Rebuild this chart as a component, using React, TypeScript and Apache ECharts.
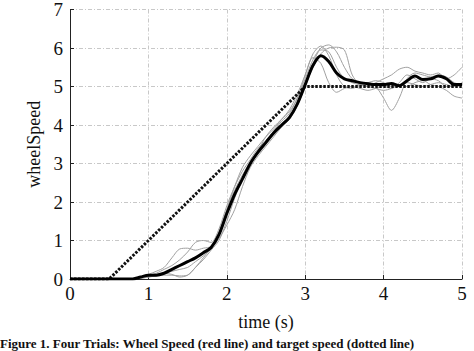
import React, { useEffect, useRef } from "react";
import * as echarts from "echarts";

const time = [0,0.1,0.2,0.3,0.4,0.5,0.6,0.7,0.8,0.9,1.0,1.1,1.2,1.3,1.4,1.5,1.6,1.7,1.8,1.9,2.0,2.1,2.2,2.3,2.4,2.5,2.6,2.7,2.8,2.9,3.0,3.1,3.2,3.3,3.4,3.5,3.6,3.7,3.8,3.9,4.0,4.1,4.2,4.3,4.4,4.5,4.6,4.7,4.8,4.9,5.0];

const trialA = [0,0,0,0,0,0,0,0,0,0.05,0.1,0.15,0.25,0.35,0.5,0.7,0.95,1.0,0.95,1.3,1.9,2.4,2.8,3.1,3.4,3.6,3.85,4.1,4.3,4.7,5.2,5.7,6.0,6.08,5.9,5.5,5.2,5.1,5.0,4.95,4.9,4.95,5.05,5.0,5.1,5.15,5.05,5.0,4.9,4.75,4.7];
const trialB = [0,0,0,0,0,0,0,0,0,0.05,0.12,0.2,0.3,0.55,0.78,0.8,0.75,0.8,0.85,1.2,1.8,2.3,2.7,3.05,3.35,3.7,3.95,4.15,4.35,4.7,5.3,5.85,6.05,5.8,5.3,5.0,4.95,5.05,5.1,5.0,4.7,4.38,4.7,5.2,5.35,5.3,5.25,5.3,5.25,5.1,5.05];
const trialC = [0,0,0,0,0,0,0,0,0,0.02,0.05,0.08,0.1,0.1,0.08,0.1,0.3,0.55,0.8,1.05,1.4,1.8,2.4,2.9,3.2,3.45,3.7,3.95,4.15,4.5,5.0,5.5,5.85,6.0,6.02,5.95,5.3,5.05,5.0,5.1,5.2,5.3,5.45,5.5,5.4,5.35,5.3,5.35,5.2,5.3,5.5];
const trialD = [0,0,0,0,0,0,0,0,0,0.03,0.08,0.12,0.15,0.2,0.25,0.3,0.45,0.6,0.8,1.2,1.8,2.4,2.9,3.2,3.45,3.7,3.9,4.15,4.4,4.8,5.3,5.75,5.6,5.1,4.85,4.95,5.0,4.95,4.9,4.95,5.0,4.95,5.1,5.3,5.2,5.1,5.2,5.15,5.0,5.0,5.1];
const trialE = [0,0,0,0,0,0,0,0,0,0.02,0.05,0.1,0.15,0.12,0.05,0.1,0.3,0.5,0.75,1.0,1.5,2.1,2.6,3.0,3.25,3.5,3.75,3.95,4.2,4.6,5.1,5.6,5.95,5.9,5.5,5.2,5.1,5.05,5.1,5.15,5.1,5.0,5.05,5.1,5.05,5.0,5.05,5.1,5.05,5.0,5.05];
const meanSpeed = [0,0,0,0,0,0,0,0,0,0.05,0.1,0.1,0.15,0.25,0.35,0.45,0.55,0.68,0.82,1.15,1.7,2.2,2.6,3.0,3.3,3.55,3.8,4.0,4.2,4.55,5.05,5.55,5.8,5.65,5.35,5.2,5.15,5.1,5.07,5.05,5.05,5.08,5.02,5.15,5.27,5.18,5.2,5.27,5.2,5.05,5.05];

const targetTime = [0, 0.5, 3, 5];
const targetSpeed = [0, 0, 5, 5];

const xTicks = [0, 1, 2, 3, 4, 5];
const yTicks = [0, 1, 2, 3, 4, 5, 6, 7];

const caption = "Figure 1. Four Trials: Wheel Speed (red line) and target speed (dotted line)";

const zip = (xs: number[], ys: number[]) => xs.map((x, i) => [x, ys[i]]);

export default function App() {
  const ref = useRef<HTMLDivElement>(null);
  useEffect(() => {
    document.body.style.margin = "0";
    const chart = echarts.init(ref.current!, null, { renderer: "svg" });
    const font = "Liberation Serif";
    const grayTrials = [trialA, trialB, trialC, trialD, trialE];
    chart.setOption({
      animation: false,
      backgroundColor: "#ffffff",
      textStyle: { fontFamily: font },
      grid: { left: 70, right: 12, top: 6, bottom: 72 },
      xAxis: {
        type: "value",
        min: xTicks[0],
        max: xTicks[xTicks.length - 1],
        interval: 1,
        name: "time (s)",
        nameLocation: "middle",
        nameGap: 34,
        nameTextStyle: { fontFamily: font, fontSize: 18, color: "#111" },
        axisLine: { show: true, lineStyle: { color: "#222", width: 1 } },
        axisTick: { show: true, inside: true, length: 4, lineStyle: { color: "#222" } },
        axisLabel: { fontFamily: font, fontSize: 19, color: "#111", margin: 5 },
        splitLine: { show: true, lineStyle: { color: "#c8c8c8", type: [4, 2, 1, 2], width: 1 } },
      },
      yAxis: {
        type: "value",
        min: yTicks[0],
        max: yTicks[yTicks.length - 1],
        interval: 1,
        name: "wheelSpeed",
        nameLocation: "middle",
        nameGap: 27,
        nameTextStyle: { fontFamily: font, fontSize: 18, color: "#111" },
        axisLine: { show: true, lineStyle: { color: "#222", width: 1 } },
        axisTick: { show: true, inside: true, length: 4, lineStyle: { color: "#222" } },
        axisLabel: { fontFamily: font, fontSize: 19, color: "#111", margin: 7 },
        splitLine: { show: true, lineStyle: { color: "#c8c8c8", type: [4, 2, 1, 2], width: 1 } },
      },
      series: [
        ...grayTrials.map((tr, i) => ({
          name: "trial" + (i + 1),
          type: "line",
          data: zip(time, tr),
          smooth: 0.3,
          symbol: "none",
          lineStyle: { color: "#a0a0a0", width: 1 },
          z: 2,
        })),
        {
          name: "target",
          type: "line",
          data: zip(targetTime, targetSpeed),
          symbol: "none",
          lineStyle: { color: "#111", width: 3, type: [2.5, 1.5] },
          z: 4,
        },
        {
          name: "mean",
          type: "line",
          data: zip(time, meanSpeed),
          smooth: 0.3,
          symbol: "none",
          lineStyle: { color: "#000", width: 3 },
          z: 5,
        },
      ],
      graphic: [
        {
          type: "text",
          left: 0,
          top: 337,
          style: { text: caption, fontFamily: font, fontSize: 13, fontWeight: "bold", fill: "#111" },
        },
      ],
    });
    return () => chart.dispose();
  }, []);
  return <div ref={ref} style={{ width: 474, height: 351, overflow: "hidden" }} />;
}
